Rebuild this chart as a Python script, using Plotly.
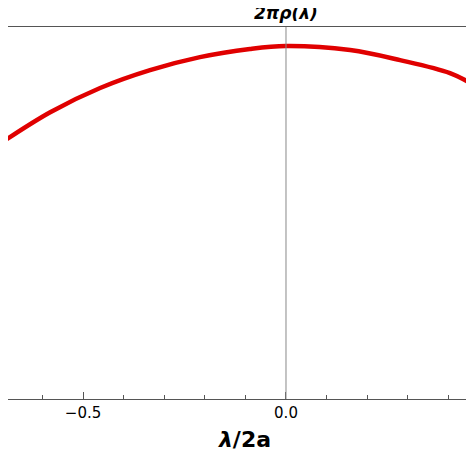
import plotly.graph_objects as go

# values (y in arbitrary units, frame bottom = 0, frame top = 1)
lam = [-0.704, -0.581, -0.458, -0.335, -0.212, -0.089, 0.0, 0.158, 0.281, 0.404, 0.463]
rho = [0.687, 0.771, 0.836, 0.884, 0.919, 0.941, 0.949, 0.938, 0.911, 0.876, 0.844]
tick_vals = [-0.5, 0.0, 0.5]
tick_text = ["\u22120.5", "0.0", "0.5"]

fig = go.Figure()
fig.add_trace(go.Scatter(x=lam, y=rho, mode="lines",
                         line=dict(color="#e00000", width=4.5, shape="spline")))

fig.add_vline(x=0, line=dict(color="#888888", width=1))
fig.add_annotation(x=0, y=1, xref="x", yref="paper", yanchor="bottom", yshift=2,
                   text="<b><i>2πρ(λ)</i></b>", showarrow=False,
                   font=dict(size=17, color="black", family="DejaVu Sans"))

fig.update_layout(
    width=474, height=474,
    margin=dict(l=0, r=0, t=19, b=83),
    paper_bgcolor="white", plot_bgcolor="white",
    showlegend=False,
    xaxis=dict(range=[-0.685, 0.483], tickvals=tick_vals, ticktext=tick_text,
               showgrid=False, zeroline=False, showline=True, mirror=True,
               linecolor="#555555", linewidth=1, ticks="inside", ticklen=7,
               tickcolor="#555555",
               minor=dict(dtick=0.1, ticks="inside", ticklen=4, tickcolor="#555555"),
               tickfont=dict(size=15, family="DejaVu Sans", color="black"),
               title=dict(text="<b><i>λ</i>/2a</b>", standoff=10,
                          font=dict(size=22, family="DejaVu Sans", color="black"))),
    yaxis=dict(range=[0, 1], showgrid=False, zeroline=False, showticklabels=False,
               showline=False),
)
fig.write_html("out.html")
